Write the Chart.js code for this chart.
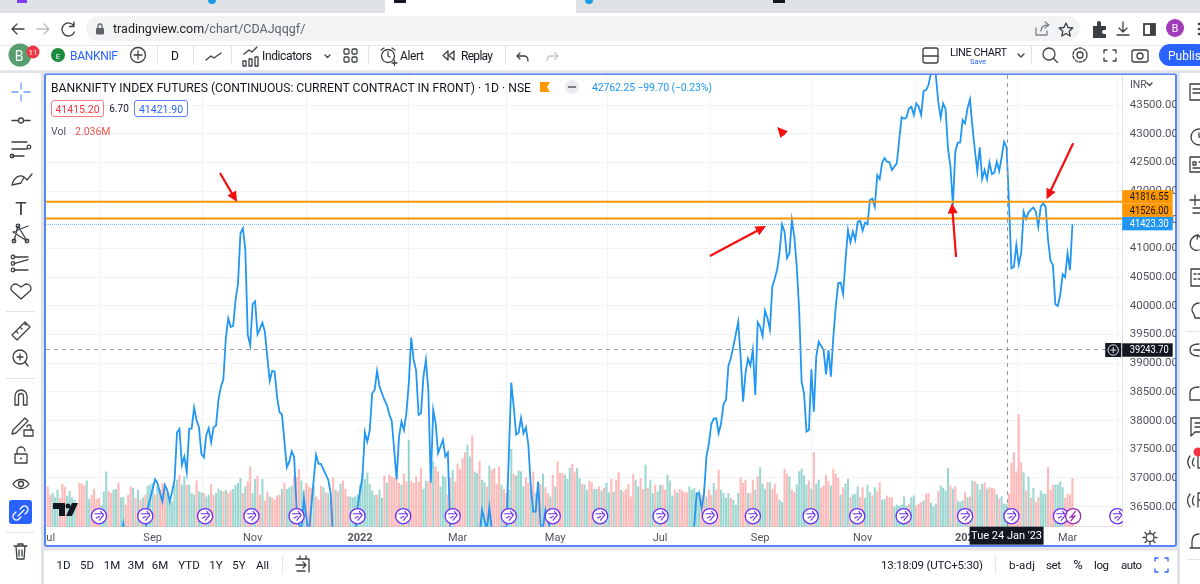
<!DOCTYPE html>
<html>
<head>
<meta charset="utf-8">
<title>BANKNIFTY</title>
<script src="https://cdn.jsdelivr.net/npm/chart.js@4/dist/chart.umd.min.js"></script>
<style>
    html, body { margin: 0; padding: 0; width: 1200px; height: 584px; overflow: hidden; background: #e0e3eb; }
    #frame { position: absolute; left: 44px; top: 73px; width: 1133px; height: 474px; box-sizing: border-box; border: 2px solid #5b84f5; border-radius: 3px; background: #fff; }
    #chartBox { position: absolute; left: 46px; top: 75px; width: 1130px; height: 471px; }
    #chrome { position: absolute; left: 0; top: 0; pointer-events: none; }
    #chrome text { font-family: Roboto, "Noto Sans", sans-serif; fill: #131722; }
    #chrome .ic { fill: none; stroke: #3c4043; stroke-width: 1.3; stroke-linecap: round; stroke-linejoin: round; }
</style>
</head>
<body>
<div id="frame"></div>
<div id="chartBox"><canvas id="priceChart" width="1130" height="471"></canvas></div>

<svg id="chrome" width="1200" height="584" viewBox="0 0 1200 584">
    <!-- browser tabs -->
    <rect x="0" y="0" width="1200" height="13" fill="#dee1e6"/>
    <rect x="385" y="0" width="191" height="13" fill="#fff"/>
    <rect x="17" y="0" width="10" height="3" fill="#7e3ff2"/>
    <circle cx="212" cy="0" r="4" fill="#1a9ae6"/>
    <rect x="394" y="0" width="12" height="3" fill="#131722"/>
    <circle cx="589" cy="0" r="4" fill="#1a9ae6"/>
    <rect x="773" y="0" width="12" height="3" fill="#131722"/>
    <rect x="0" y="13" width="1200" height="33" fill="#fff"/>
    <rect x="86" y="16" width="994" height="25" rx="12.5" fill="#f1f3f4"/>
    <path class="ic" d="M24 29H12M17 24l-5 5 5 5"/>
    <path class="ic" style="stroke:#b8babd" d="M37 29h12M44 24l5 5-5 5"/>
    <path class="ic" d="M74 26a6.5 6.5 0 1 0 0.5 6M74 22v4.500h-4.500"/>
    <rect x="96" y="28" width="8" height="6.500" rx="1" fill="#5f6368"/>
    <path class="ic" style="stroke:#5f6368" d="M98 28v-2a2 2 0 0 1 4 0v2"/>
    <text x="113" y="33" font-size="12.500"><tspan style="fill:#202124">tradingview.com</tspan><tspan style="fill:#5f6368">/chart/CDAJqqgf/</tspan></text>
    <path class="ic" style="stroke:#80868b" d="M1036 28v7h11v-4M1041 31c0-4 3-6 7-6M1045 22l4 3-4 3"/>
    <path class="ic" d="M1066 23l2 4.500 4.800.5-3.600 3.200 1 4.800-4.200-2.500-4.200 2.500 1-4.800-3.600-3.200 4.800-.5z"/>
    <path d="M1093 26h4v-3a2 2 0 0 1 4 0v3h5v4h-2a2 2 0 0 0 0 4h2v4h-13z" fill="#3c4043"/>
    <path class="ic" d="M1123 22v10M1119 28l4 4 4-4M1117 35h12"/>
    <rect x="1144" y="24" width="11" height="11" fill="none" stroke="#3c4043" stroke-width="1.800"/>
    <rect x="1150" y="24" width="5" height="11" fill="#3c4043"/>
    <circle cx="1175" cy="28" r="9" fill="#a13bb8"/>
    <text x="1175" y="32" font-size="10.500" text-anchor="middle" style="fill:#fff">B</text>
    <circle cx="1199" cy="24" r="1.300" fill="#3c4043"/><circle cx="1199" cy="29" r="1.300" fill="#3c4043"/><circle cx="1199" cy="34" r="1.300" fill="#3c4043"/>

    <!-- top toolbar -->
    <rect x="0" y="46" width="1200" height="24.500" fill="#fff"/>
    <rect x="0" y="45" width="1200" height="1" fill="#e6e7ea"/>
    <circle cx="20" cy="55" r="11.500" fill="#5a9e6f"/>
    <text x="19" y="60.500" font-size="14" text-anchor="middle" style="fill:#fff">B</text>
    <circle cx="33" cy="52" r="6.500" fill="#f23645"/>
    <text x="33" y="55" font-size="8" text-anchor="middle" style="fill:#fff">11</text>
    <circle cx="58" cy="55" r="7" fill="#1b8a3e"/>
    <text x="58" y="58.500" font-size="8" text-anchor="middle" style="fill:#fff">E</text>
    <text x="70" y="60" font-size="12" style="fill:#2962ff" textLength="48">BANKNIF</text>
    <circle cx="138" cy="55" r="7.500" class="ic"/><path class="ic" d="M134 55h8M138 51v8"/>
    <rect x="157" y="46" width="1" height="19" fill="#e0e3eb"/>
    <text x="175" y="60" font-size="12" text-anchor="middle">D</text>
    <rect x="193" y="46" width="1" height="19" fill="#e0e3eb"/>
    <path class="ic" d="M206 60l5-4 3 2 7-5"/>
    <rect x="231" y="46" width="1" height="19" fill="#e0e3eb"/>
    <path class="ic" d="M244 54l5-4 3 2 5-5M243 66v-5h3v5zM249 66v-7h3v7zM255 66v-9h3v9z"/>
    <text x="262" y="60" font-size="12" textLength="50">Indicators</text>
    <path class="ic" d="M325 55l2.500 2.500 2.500-2.500"/>
    <rect x="344" y="49" width="5" height="5" rx="1.200" class="ic"/><rect x="352" y="49" width="5" height="5" rx="1.200" class="ic"/>
    <rect x="344" y="57" width="5" height="5" rx="1.200" class="ic"/><rect x="352" y="57" width="5" height="5" rx="1.200" class="ic"/>
    <rect x="368" y="46" width="1" height="19" fill="#e0e3eb"/>
    <circle cx="388" cy="56" r="6.500" class="ic"/><path class="ic" d="M388 52v4l2 1M381 50l3-2M395 50l-3-2M392 63h5M394.500 60.500v5"/>
    <text x="400" y="60" font-size="12" textLength="24">Alert</text>
    <path class="ic" d="M448 51l-5 4.500 5 4.500zM454 51l-5 4.500 5 4.500z"/>
    <text x="461" y="60" font-size="12" textLength="32">Replay</text>
    <rect x="505" y="46" width="1" height="19" fill="#e0e3eb"/>
    <path class="ic" d="M517 56h7c3 0 4 2 4 5M517 56l3-3M517 56l3 3"/>
    <path class="ic" style="stroke:#c4c6cb" d="M558 56h-7c-3 0-4 2-4 5M558 56l-3-3M558 56l-3 3"/>
    <rect x="923" y="48" width="15" height="15" rx="2" class="ic"/><path class="ic" d="M923 56h15"/>
    <text x="950" y="56" font-size="11" textLength="57">LINE CHART</text>
    <text x="978" y="64" font-size="7.500" text-anchor="middle" style="fill:#2962ff">Save</text>
    <path class="ic" d="M1018 54l3 3 3-3"/>
    <rect x="1031" y="46" width="1" height="19" fill="#e0e3eb"/>
    <circle cx="1049" cy="54" r="6" class="ic"/><path class="ic" d="M1053.500 58.500l4 4"/>
    <circle cx="1080" cy="55" r="3" class="ic"/><circle cx="1080" cy="55" r="7" class="ic" stroke-dasharray="3 1.500"/>
    <path class="ic" d="M1104 53v-3h3M1113 50h3v3M1116 58v3h-3M1107 61h-3v-3"/>
    <rect x="1132" y="50" width="16" height="12" rx="2" class="ic"/><circle cx="1140" cy="56" r="3" class="ic"/>
    <rect x="1159" y="44" width="50" height="22" rx="11" fill="#2962ff"/>
    <text x="1168" y="60" font-size="12" style="fill:#fff">Publish</text>
    <rect x="0" y="70.500" width="1200" height="3" fill="#e0e3eb"/>

    <!-- bottom bar -->
    <rect x="0" y="547.500" width="1200" height="36.500" fill="#fff"/>
    <rect x="41" y="547.500" width="1139" height="3" fill="#e0e3eb"/>
    <rect x="41" y="550" width="3" height="34" fill="#e0e3eb"/>
    <rect x="1177" y="550" width="3" height="34" fill="#e0e3eb"/>
    <g font-size="11.500">
        <text x="63.500" y="569" text-anchor="middle">1D</text>
        <text x="87" y="569" text-anchor="middle">5D</text>
        <text x="112" y="569" text-anchor="middle">1M</text>
        <text x="136" y="569" text-anchor="middle">3M</text>
        <text x="160" y="569" text-anchor="middle">6M</text>
        <text x="189" y="569" text-anchor="middle">YTD</text>
        <text x="216" y="569" text-anchor="middle">1Y</text>
        <text x="239" y="569" text-anchor="middle">5Y</text>
        <text x="262.500" y="569" text-anchor="middle">All</text>
        <text x="881" y="569" textLength="102">13:18:09 (UTC+5:30)</text>
        <text x="1009" y="569" textLength="26">b-adj</text>
        <text x="1046" y="569" textLength="15">set</text>
        <text x="1078" y="569" text-anchor="middle" font-size="13">%</text>
        <text x="1094" y="569" textLength="15">log</text>
        <text x="1121" y="569" textLength="21">auto</text>
    </g>
    <rect x="282" y="556" width="1" height="18" fill="#e0e3eb"/>
    <path class="ic" d="M297 559h12v13M296 565h10M303 562l3 3-3 3M300 556v3M306 556v3M297 571h8"/>
    <rect x="995" y="556" width="1" height="18" fill="#e0e3eb"/>
    <path class="ic" style="stroke:#2962ff" d="M1155 561v-3h3M1165 558h3v3M1168 569v3h-3M1158 572h-3v-3"/>

    <!-- left toolbar -->
    <rect x="0" y="73" width="41" height="511" fill="#fff"/>
    <path class="ic" style="stroke:#6f9bf5" d="M21 83v6M21 95v6M12 92h6M24 92h6"/>
    <path class="ic" d="M12 120.500h6M24 120.500h6"/><circle cx="21" cy="120.500" r="2.500" class="ic"/>
    <path class="ic" d="M12 142h15M12 149h15M12 156h12"/><circle cx="29" cy="147" r="1.800" class="ic"/><circle cx="12" cy="156" r="1.800" class="ic"/>
    <path class="ic" d="M12 185c2-8 8-11 12-8l-3 6zM24 177l3 3 5-6"/>
    <text x="21" y="215" font-size="19" text-anchor="middle" style="fill:#3c4043">T</text>
    <path class="ic" d="M14 241l4-15 9 15-14-9 15-6"/><circle cx="14" cy="241" r="1.800" class="ic"/><circle cx="18" cy="226" r="1.800" class="ic"/><circle cx="27" cy="241" r="1.800" class="ic"/>
    <path class="ic" d="M14 257h14M14 270h14M14 263.500l14-4"/><circle cx="13" cy="257" r="1.800" class="ic"/><circle cx="13" cy="263.500" r="1.800" class="ic"/><circle cx="13" cy="270" r="1.800" class="ic"/>
    <path class="ic" d="M21 299l-9-8c-3-4 2-9 6-6l3 2 3-2c4-3 9 2 6 6z"/>
    <rect x="6" y="311" width="29" height="1" fill="#e0e3eb"/>
    <path class="ic" d="M12 335l13-13 5 5-13 13zM16 331l2 2M20 327l2 2M24 323l2 2"/>
    <circle cx="20" cy="357" r="7" class="ic"/><path class="ic" d="M25 362l3 4M17 357h6M20 354v6"/>
    <rect x="6" y="378" width="29" height="1" fill="#e0e3eb"/>
    <path class="ic" d="M15 405v-9a6 6 0 0 1 12 0v9h-3.500v-9a2.500 2.500 0 0 0-5 0v9z"/>
    <path class="ic" d="M13 430l12-12 3 3-12 12-4 1zM27 427a2 2 0 0 1 4 0v2M24 430h9v6h-9z"/>
    <path class="ic" d="M15 454h12v9H15zM17 454v-3a4 4 0 0 1 8 0"/><circle cx="21" cy="458.500" r="1" fill="#3c4043"/>
    <path class="ic" d="M13 484c4-6 12-6 16 0-4 6-12 6-16 0z"/><circle cx="21" cy="484" r="2.500" class="ic"/>
    <rect x="9" y="500" width="23" height="24" rx="3" fill="#2962ff"/>
    <path class="ic" style="stroke:#fff" d="M18 516l6-6M16 512l-2 2a3 3 0 0 0 5 5l2-2M25 514l2-2a3 3 0 0 0-5-5l-2 2"/>
    <rect x="6" y="532" width="29" height="1" fill="#e0e3eb"/>
    <path class="ic" d="M14 546h13M16 546l1 13h7l1-13M18 546v-2h5v2M19 550v6M22 550v6"/>

    <!-- right panel -->
    <rect x="1180" y="73" width="20" height="511" fill="#fff"/>
    <path class="ic" d="M1190 84h16v16h-16zM1193 89h10M1193 93h10"/>
    <circle cx="1199" cy="137" r="8" class="ic"/><path class="ic" d="M1199 133v4l3 1"/>
    <path class="ic" d="M1190 157h16v15h-16zM1193 162h3v3h-3zM1199 162h5M1193 168h8"/>
    <path class="ic" d="M1190 200h10M1195 195v10M1193 208h12M1193 213h12"/>
    <path class="ic" d="M1198 235c-7 1-9 8-7 12 2 3 5 4 8 3M1198 235l3 3M1198 235l-1 4"/>
    <path class="ic" d="M1191 269h14v17h-14zM1194 274h2M1198 274h2M1194 279h2M1198 279h2"/>
    <path class="ic" d="M1199 303a7 7 0 0 0-7 7c0 3 3 4 3 8h8"/>
    <rect x="1186" y="331" width="14" height="1" fill="#e0e3eb"/>
    <path class="ic" d="M1190 350c0-4 4-6 9-6M1190 350c0 4 4 6 9 6M1194 350h8"/>
    <path class="ic" d="M1190 400v-7c0-4 4-6 9-6M1190 400h10"/>
    <path class="ic" d="M1191 418h12v14h-8l-4 4zM1195 423h6M1195 427h6"/>
    <path class="ic" d="M1190 456c-3 4-3 8 0 12M1194 458c-2 3-2 6 0 8M1198 452h5v16h-5z"/>
    <circle cx="1198" cy="452" r="4.500" fill="#f23645"/>
    <path class="ic" d="M1190 494c-3 4-3 9 0 13M1194 496c-2 3-2 7 0 9M1198 493h4c3 0 3 7 0 7h-4zM1198 493v14"/>
    <path class="ic" d="M1192 548v-6c0-6 3-8 7-8M1190 548h10"/>
    <rect x="1187" y="559" width="13" height="1" fill="#e0e3eb"/>

    <!-- chart legend -->
    <text x="51" y="91.500" font-size="12.500" textLength="480" lengthAdjust="spacingAndGlyphs">BANKNIFTY INDEX FUTURES (CONTINUOUS: CURRENT CONTRACT IN FRONT) · 1D · NSE</text>
    <path d="M540 82h10l-3 5 3 5h-10z" fill="#ff9800"/>
    <circle cx="572" cy="87" r="7" fill="#e9ebf0"/><rect x="568" y="86" width="8" height="2" fill="#787b86"/>
    <text x="592" y="91" font-size="10.500" style="fill:#2196f3" textLength="120">42762.25 −99.70 (−0.23%)</text>
    <rect x="51.500" y="100.500" width="52" height="16" rx="2.500" fill="#fff" stroke="#f77c80"/>
    <text x="77.500" y="112.500" font-size="10.500" text-anchor="middle" style="fill:#f23645">41415.20</text>
    <text x="119" y="112" font-size="10" text-anchor="middle">6.70</text>
    <rect x="134.500" y="100.500" width="53" height="16" rx="2.500" fill="#fff" stroke="#5b84f5"/>
    <text x="161" y="112.500" font-size="10.500" text-anchor="middle" style="fill:#2962ff">41421.90</text>
    <text x="51" y="135" font-size="10.500" style="fill:#50535e">Vol</text>
    <text x="75" y="135" font-size="10.500" style="fill:#ef5350">2.036M</text>
    <text x="1130" y="88" font-size="10.500" style="fill:#50535e">INR</text>
    <path class="ic" d="M1147 83l2.500 2.500 2.500-2.500"/>

    <!-- TV logo -->
    <path d="M53 503h12v13h-6v-7h-6zM72 503h6l-6 13h-6z" fill="#131722"/><circle cx="68" cy="506" r="2.500" fill="#131722"/>

    <!-- gear on the axis corner -->
    <circle cx="1150" cy="537.500" r="4" class="ic"/><path class="ic" d="M1150 530.500v2M1150 542.500v2M1143 537.500h2M1155 537.500h2M1145 532.500l1.500 1.500M1155 532.500l-1.500 1.500M1145 542.500l1.500-1.500M1155 542.500l-1.500-1.500"/>
</svg>

<script>
// Volume in millions for each daily bar, and whether the bar was up (1) or down (0)
const volumes = [
    1.68, 1.33, 1.40, 1.22, 1.54, 1.19, 1.78, 1.68, 1.29, 1.50,
    1.22, 1.12, 0.91, 1.82, 1.79, 1.71, 1.93, 1.16, 1.33, 1.58,
    1.15, 1.19, 0.90, 1.47, 2.31, 1.50, 1.40, 1.54, 1.57, 1.85,
    1.22, 1.23, 0.91, 1.33, 1.68, 1.61, 1.19, 1.54, 1.12, 1.23,
    1.33, 1.71, 1.75, 1.82, 1.33, 1.68, 1.57, 1.82, 1.75, 1.40,
    1.05, 1.05, 1.75, 1.96, 2.17, 1.75, 2.10, 1.75, 1.75, 1.40,
    1.33, 1.93, 1.47, 1.43, 1.40, 1.26, 1.33, 1.79, 1.33, 1.40,
    1.58, 1.51, 1.47, 1.54, 1.40, 1.51, 1.57, 1.75, 1.82, 2.03,
    1.40, 1.68, 1.89, 2.52, 1.40, 1.99, 2.13, 1.33, 1.99, 1.09,
    1.47, 1.26, 1.22, 1.12, 1.30, 1.33, 1.57, 1.85, 1.57, 1.65,
    1.71, 2.14, 2.07, 2.41, 1.93, 1.54, 1.82, 1.68, 1.61, 1.71,
    1.26, 1.12, 1.71, 1.65, 1.43, 1.40, 1.12, 2.07, 1.54, 1.47,
    1.79, 1.92, 1.57, 1.26, 1.26, 1.22, 1.26, 1.33, 1.75, 2.27,
    1.99, 2.27, 1.79, 1.51, 1.33, 1.33, 1.54, 1.19, 2.13, 1.82,
    2.17, 2.10, 2.03, 2.17, 1.82, 1.75, 2.21, 1.89, 3.64, 1.92,
    1.82, 2.10, 1.89, 2.45, 1.58, 1.92, 1.92, 2.21, 2.73, 2.52,
    2.31, 1.68, 2.14, 2.07, 1.33, 2.06, 2.38, 1.89, 2.63, 2.42,
    2.87, 3.12, 3.43, 2.94, 3.82, 2.31, 2.24, 2.76, 1.96, 1.86,
    1.68, 2.55, 2.38, 2.45, 1.79, 2.52, 1.75, 1.57, 1.40, 1.54,
    3.25, 2.21, 2.13, 2.35, 2.31, 1.68, 2.07, 1.82, 1.54, 2.31,
    1.40, 1.82, 1.78, 2.21, 1.65, 1.40, 1.26, 2.17, 1.68, 2.73,
    2.24, 2.24, 2.17, 1.99, 2.45, 2.63, 2.31, 2.45, 2.03, 1.79,
    1.75, 1.54, 1.92, 1.85, 1.57, 1.57, 1.68, 1.51, 1.61, 1.82,
    1.43, 1.99, 1.47, 1.96, 2.28, 1.54, 1.47, 1.57, 1.79, 1.26,
    2.21, 1.96, 1.68, 2.03, 1.57, 2.59, 1.61, 1.96, 1.40, 1.75,
    1.47, 1.75, 1.75, 1.54, 2.17, 1.93, 1.29, 1.54, 1.44, 1.57,
    1.51, 1.44, 1.44, 1.68, 1.54, 1.61, 1.43, 1.54, 1.33, 1.68,
    1.26, 1.54, 1.33, 1.82, 1.54, 2.38, 1.54, 1.40, 1.19, 1.40,
    1.19, 1.12, 0.91, 1.40, 2.06, 1.82, 1.96, 1.40, 1.40, 1.96,
    1.54, 2.10, 2.49, 1.79, 1.58, 1.86, 1.86, 1.58, 1.79, 1.37,
    1.12, 1.02, 2.42, 2.21, 2.10, 1.55, 1.44, 1.76, 2.32, 2.42,
    2.14, 1.76, 1.93, 1.58, 3.12, 1.79, 1.97, 1.62, 1.72, 2.17,
    1.90, 1.72, 2.42, 2.21, 2.03, 1.34, 1.65, 1.79, 2.00, 1.23,
    1.34, 1.37, 1.69, 1.23, 1.65, 1.20, 1.75, 1.44, 1.30, 1.65,
    1.47, 1.86, 1.12, 1.16, 1.30, 1.23, 1.23, 0.84, 0.92, 0.88,
    0.92, 1.26, 0.88, 0.95, 1.23, 1.30, 0.88, 0.95, 1.02, 1.09,
    1.37, 1.40, 0.99, 0.85, 0.95, 1.48, 1.72, 1.62, 1.51, 2.46,
    1.72, 1.58, 1.69, 1.09, 1.02, 1.09, 1.44, 1.23, 1.26, 1.93,
    1.89, 1.79, 1.54, 1.79, 1.83, 1.58, 1.65, 1.61, 1.58, 1.34,
    1.16, 1.26, 0.95, 0.95, 1.37, 2.68, 3.12, 2.32, 4.73, 2.70,
    2.28, 1.51, 2.10, 1.20, 1.61, 1.02, 1.23, 1.51, 1.37, 1.37,
    2.49, 1.55, 1.75, 1.75, 1.76, 1.89, 1.65, 1.19, 1.37, 1.34,
    2.036
];
const volumeUp = [
    0,0,1,1,1,0,0,0,1,1, 1,1,0,0,0,0,1,1,0,0, 0,0,1,1,1,0,0,1,1,0,
    1,1,0,0,0,1,0,1,0,1, 0,1,1,1,0,1,0,0,0,1, 1,1,1,1,0,1,1,0,1,1,
    1,0,1,1,0,1,1,0,0,1, 1,1,0,1,0,0,1,1,1,1, 0,1,0,0,1,1,0,0,1,0,
    0,1,0,0,0,0,1,0,1,1, 1,0,0,0,1,1,0,0,0,1, 0,0,0,1,0,1,0,0,1,0,
    1,0,0,0,1,1,1,1,1,1, 1,1,1,1,1,0,1,1,0,1, 0,0,0,0,0,1,0,0,1,0,
    0,0,0,0,1,1,0,0,1,0, 0,1,1,1,0,0,1,0,0,0, 0,0,1,1,0,1,1,0,1,1,
    0,1,0,0,0,0,1,0,0,1, 1,0,1,1,1,1,0,0,1,0, 1,0,0,1,0,0,1,0,1,0,
    0,0,1,1,1,0,0,1,1,0, 1,1,0,0,1,1,0,1,0,1, 1,0,1,0,0,1,0,0,0,0,
    0,1,1,0,0,1,0,1,1,0, 1,1,0,0,1,1,1,0,1,0, 0,0,0,1,1,1,1,1,0,0,
    1,0,0,1,0,0,1,1,1,1, 0,1,1,1,0,0,0,1,0,0, 1,0,1,1,1,0,1,0,0,0,
    1,1,0,0,1,0,0,1,1,1, 1,1,0,1,0,1,1,0,0,0, 0,1,0,0,0,1,0,1,1,0,
    1,1,1,0,0,1,1,1,0,1, 0,0,1,1,0,0,0,1,1,1, 1,1,1,0,1,1,0,0,0,1,
    0,0,1,1,1,0,1,1,1,1, 0,1,0,1,1,1,0,1,0,1, 0,1,1,1,0,1,0,0,0,1,
    0,1,1,1,0,0,0,0,0,0, 1,0,1,0,1
];

// Close prices, at the bars where the line turns
const lineBars = [
    0, 12, 25, 30, 31, 32, 38, 40, 41, 44,
    45, 47, 48, 49, 50, 51, 52, 53, 54, 55,
    56, 57, 58, 59, 60, 61, 62, 63, 64, 65,
    66, 67, 68, 69, 70, 71, 72, 73, 74, 75,
    76, 77, 78, 79, 80, 81, 82, 83, 84, 85,
    86, 87, 88, 89, 90, 91, 92, 93, 94, 95,
    96, 98, 99, 100, 101, 102, 103, 104, 105, 107,
    109, 110, 111, 112, 115, 116, 117, 120, 124, 126,
    127, 129, 130, 131, 132, 133, 134, 135, 136, 138,
    139, 140, 141, 142, 143, 144, 145, 146, 147, 148,
    149, 150, 151, 152, 153, 154, 155, 156, 157, 158,
    159, 160, 161, 162, 163, 164, 165, 166, 172, 177,
    178, 180, 181, 182, 188, 190, 191, 192, 193, 194,
    195, 196, 197, 198, 199, 200, 201, 202, 203, 204,
    206, 207, 215, 230, 250, 264, 265, 266, 267, 268,
    269, 270, 271, 272, 273, 274, 275, 276, 277, 278,
    279, 280, 281, 282, 283, 284, 285, 286, 287, 288,
    289, 290, 291, 292, 293, 294, 295, 296, 297, 298,
    299, 300, 301, 302, 303, 304, 305, 306, 307, 308,
    309, 310, 311, 312, 313, 314, 315, 316, 317, 318,
    319, 320, 321, 322, 323, 324, 325, 326, 327, 328,
    329, 330, 331, 332, 333, 334, 335, 336, 337, 338,
    339, 340, 341, 342, 343, 344, 345, 346, 348, 349,
    350, 351, 352, 353, 354, 355, 356, 357, 358, 359,
    360, 361, 362, 363, 364, 365, 366, 367, 368, 369,
    370, 371, 372, 373, 374, 375, 376, 377, 378, 379,
    380, 381, 382, 383, 384, 385, 386, 387, 388, 389,
    390, 391, 392, 393, 394, 395, 396, 397, 398, 399,
    400, 401, 402, 403, 404, 405, 406, 407, 408, 409,
    410, 411, 412, 413, 414, 415, 416, 417, 418, 419,
    420
];
const closes = [
    35600, 35700, 35800, 35950, 36209, 35950, 35800, 36000, 36471, 36977,
    36907, 36587, 36878, 36791, 36587, 36762, 36965, 37790, 37854, 37227,
    37372, 37099, 37860, 37860, 38226, 38011, 37883, 37418, 37360, 37750,
    37866, 37622, 37883, 37913, 38372, 38593, 38721, 39436, 39784, 39633,
    39651, 40104, 40395, 41267, 41354, 40976, 39494, 39314, 40034, 40081,
    39505, 39600, 39709, 39552, 39116, 38692, 38866, 38860, 38418, 38145,
    38110, 37186, 37285, 37465, 37372, 36471, 36180, 36122, 36645, 36000,
    36965, 37401, 37244, 37244, 36965, 36732, 35900, 35700, 35800, 35950,
    36500, 37023, 37796, 37634, 37837, 38476, 38535, 38866, 38593, 38360,
    38273, 38110, 37994, 37500, 36977, 37721, 37982, 37837, 38128, 38651,
    39447, 39058, 38872, 38099, 38128, 38767, 39058, 38535, 36918, 38186,
    37953, 37430, 37550, 37663, 37372, 37442, 36100, 35900, 35700, 36000,
    36442, 36100, 36488, 36100, 36150, 38662, 38244, 37756, 37790, 38046,
    37779, 37883, 37575, 36849, 36413, 36413, 36936, 36180, 36120, 36442,
    36100, 35500, 35000, 34000, 35000, 35800, 36180, 36732, 36732, 36471,
    36732, 37372, 37604, 37941, 38035, 38040, 37779, 37953, 38290, 38360,
    38959, 39087, 39290, 39500, 39720, 39116, 38331, 38825, 39081, 38959,
    39232, 38447, 39715, 39639, 39476, 39918, 39784, 39592, 40337, 40480,
    40639, 40947, 41424, 41296, 40836, 40918, 41499, 41208, 40685, 39930,
    38679, 38476, 37807, 37836, 38894, 38156, 39115, 39377, 39300, 39232,
    38807, 39232, 38767, 39465, 39988, 40395, 40406, 40209, 40802, 41325,
    41110, 41296, 41150, 41470, 41482, 41313, 41453, 41429, 41848, 41871,
    41732, 42284, 42214, 42499, 42580, 42516, 42505, 42371, 42487, 42894,
    43290, 43266, 43290, 43446, 43476, 43330, 43534, 43476, 43330, 43749,
    43766, 43853, 44057, 44130, 44028, 43563, 43284, 43534, 43435, 42749,
    42429, 41761, 42691, 42848, 42848, 43243, 43185, 43446, 43603, 43127,
    42720, 42354, 42766, 42214, 42371, 42208, 42499, 42301, 42325, 42516,
    42354, 42600, 42865, 42766, 41790, 40656, 40685, 41063, 40726, 40918,
    41644, 41517, 41633, 41680, 41720, 41644, 41383, 41732, 41790, 41732,
    41150, 40790, 40714, 40028, 39999, 40191, 40552, 40499, 40918, 40627,
    41423.30
];

// Axis ticks
const priceTicks = [36500, 37000, 37500, 38000, 38500, 39000, 39500, 40000, 40500, 41000, 41500, 42000, 42500, 43000, 43500];
const monthBars = [0, 43, 84, 128, 168, 208, 251, 292, 334, 377, 418];
const monthLabels = ['Jul', 'Sep', 'Nov', '2022', 'Mar', 'May', 'Jul', 'Sep', 'Nov', '2023', 'Mar'];

// Levels drawn across the chart
const resistanceLevels = [41816.55, 41526.00];
const lastPrice = 41423.30;
const crosshairPrice = 39243.70;
const crosshairBar = 393;
const crosshairDate = "Tue 24 Jan '23";

// Hand drawn arrows on the chart: from bar, from price, to bar, to price
const arrows = [
    [70.6, 42319, 77.6, 41813],
    [271.4, 40871, 294.4, 41395],
    [372.3, 40854, 370.6, 41796],
    [420.3, 42837, 409.4, 41860],
    [302, 42982, 299, 43121]
];

// Dividend markers along the bottom of the pane
const dividendBars = [21, 40, 64.5, 83.5, 102, 127, 145.7, 166, 189, 207, 226.4, 251.2, 271.4, 289, 312.7, 331.8, 350.8, 376, 395, 415.3, 438.4];
const splitBars = [420.3];

const xMin = -0.7;
const xMax = 440.6;
const axisFont = '"Liberation Sans Narrow", Roboto, sans-serif';

function rowsFrom(xs, ys) {
    return xs.map((x, i) => ({ x: x, y: ys[i] }));
}

function levelRow(price) {
    return [{ x: xMin, y: price }, { x: xMax, y: price }];
}

// Chart.js leaves room for half a tick label at the ends of each axis, the plot should fill the pane
function dropAxisPadding(scale) {
    scale.paddingLeft = 0;
    scale.paddingRight = 0;
    scale.paddingTop = 0;
    scale.paddingBottom = 0;
}

// Price tags, arrows, crosshair and markers are placed through the scales
const overlayPlugin = {
    id: 'overlay',
    afterDatasetsDraw(chart) {
        const ctx = chart.ctx;
        const x = chart.scales.x;
        const y = chart.scales.y;
        const area = chart.chartArea;

        ctx.save();
        ctx.beginPath();
        ctx.rect(area.left, area.top, area.right - area.left, area.bottom - area.top);
        ctx.clip();

        // Crosshair
        ctx.strokeStyle = '#9598a1';
        ctx.lineWidth = 1;
        ctx.setLineDash([4, 4]);
        ctx.beginPath();
        ctx.moveTo(area.left, Math.round(y.getPixelForValue(crosshairPrice)) + 0.5);
        ctx.lineTo(area.right, Math.round(y.getPixelForValue(crosshairPrice)) + 0.5);
        ctx.moveTo(Math.round(x.getPixelForValue(crosshairBar)) + 0.5, area.top);
        ctx.lineTo(Math.round(x.getPixelForValue(crosshairBar)) + 0.5, area.bottom);
        ctx.stroke();
        ctx.setLineDash([]);

        // Arrows
        arrows.forEach(a => drawArrow(ctx, x.getPixelForValue(a[0]), y.getPixelForValue(a[1]), x.getPixelForValue(a[2]), y.getPixelForValue(a[3])));

        // Markers
        const markerY = area.bottom - 10.5;
        dividendBars.forEach(b => drawDividend(ctx, x.getPixelForValue(b), markerY));
        splitBars.forEach(b => drawSplit(ctx, x.getPixelForValue(b), markerY));
        ctx.restore();

        // Tags over the price axis
        const axisX = area.right - 0.5;
        drawTag(ctx, axisX, y.getPixelForValue(resistanceLevels[0]) - 5, resistanceLevels[0].toFixed(2), '#ff9800', '#131722');
        drawTag(ctx, axisX, y.getPixelForValue(resistanceLevels[1]) - 8.3, resistanceLevels[1].toFixed(2), '#ff9800', '#131722');
        drawTag(ctx, axisX, y.getPixelForValue(lastPrice) - 0.7, lastPrice.toFixed(2), '#2196f3', '#ffffff');
        const crossY = y.getPixelForValue(crosshairPrice);
        drawTag(ctx, axisX, crossY + 0.7, crosshairPrice.toFixed(2), '#131722', '#ffffff');

        // Plus button next to the crosshair tag
        ctx.fillStyle = '#131722';
        ctx.fillRect(axisX - 17, crossY - 6.3, 16, 14);
        ctx.strokeStyle = '#e0e3eb';
        ctx.beginPath();
        ctx.arc(axisX - 9, crossY + 0.7, 5.2, 0, Math.PI * 2);
        ctx.moveTo(axisX - 12, crossY + 0.7);
        ctx.lineTo(axisX - 6, crossY + 0.7);
        ctx.moveTo(axisX - 9, crossY - 2.3);
        ctx.lineTo(axisX - 9, crossY + 3.7);
        ctx.stroke();

        // Date tag on the time axis
        const dateX = x.getPixelForValue(crosshairBar);
        ctx.fillStyle = '#131722';
        ctx.fillRect(dateX - 37, area.bottom, 74, 18);
        ctx.fillStyle = '#ffffff';
        ctx.font = '11px Roboto, "Noto Sans", sans-serif';
        ctx.textAlign = 'center';
        ctx.textBaseline = 'middle';
        ctx.fillText(crosshairDate, dateX, area.bottom + 10);
    }
};

function drawArrow(ctx, x1, y1, x2, y2) {
    const angle = Math.atan2(y2 - y1, x2 - x1);
    const head = 10;
    ctx.strokeStyle = '#f50f0f';
    ctx.fillStyle = '#f50f0f';
    ctx.lineWidth = 2.2;
    ctx.beginPath();
    ctx.moveTo(x1, y1);
    ctx.lineTo(x2 - Math.cos(angle) * head, y2 - Math.sin(angle) * head);
    ctx.stroke();
    ctx.beginPath();
    ctx.moveTo(x2, y2);
    ctx.lineTo(x2 - Math.cos(angle - 0.45) * head * 1.15, y2 - Math.sin(angle - 0.45) * head * 1.15);
    ctx.lineTo(x2 - Math.cos(angle + 0.45) * head * 1.15, y2 - Math.sin(angle + 0.45) * head * 1.15);
    ctx.closePath();
    ctx.fill();
}

function drawDividend(ctx, cx, cy) {
    ctx.fillStyle = '#ffffff';
    ctx.strokeStyle = '#6a2cf0';
    ctx.lineWidth = 1.3;
    ctx.beginPath();
    ctx.arc(cx, cy, 7.6, 0, Math.PI * 2);
    ctx.fill();
    ctx.stroke();
    ctx.lineWidth = 1.1;
    ctx.beginPath();
    ctx.moveTo(cx - 4.5, cy - 2.5);
    ctx.lineTo(cx + 4.5, cy - 2.5);
    ctx.moveTo(cx + 1.5, cy - 5);
    ctx.lineTo(cx + 4.5, cy - 1);
    ctx.lineTo(cx, cy + 4.5);
    ctx.moveTo(cx - 3, cy + 2);
    ctx.lineTo(cx + 1, cy);
    ctx.stroke();
}

function drawSplit(ctx, cx, cy) {
    ctx.fillStyle = '#ffffff';
    ctx.strokeStyle = '#9c27b0';
    ctx.lineWidth = 1.3;
    ctx.beginPath();
    ctx.arc(cx, cy, 7.6, 0, Math.PI * 2);
    ctx.fill();
    ctx.stroke();
    ctx.beginPath();
    ctx.moveTo(cx + 2.5, cy - 5);
    ctx.lineTo(cx - 2.5, cy + 1);
    ctx.lineTo(cx + 1.5, cy);
    ctx.lineTo(cx - 2.5, cy + 5);
    ctx.stroke();
}

function drawTag(ctx, left, cy, text, background, color) {
    ctx.fillStyle = background;
    ctx.fillRect(left, cy - 6.7, 50.5, 13.4);
    ctx.fillStyle = color;
    ctx.font = '11.5px ' + axisFont;
    ctx.textAlign = 'left';
    ctx.textBaseline = 'middle';
    ctx.fillText(text, left + 7.5, cy + 0.5, 39);
}

const ctx = document.getElementById('priceChart').getContext('2d');

new Chart(ctx, {
    data: {
        datasets: [
            {
                type: 'line',
                data: rowsFrom(lineBars, closes),
                yAxisID: 'y',
                borderColor: '#2196f3',
                borderWidth: 1.8,
                pointRadius: 0,
                tension: 0,
                order: 2
            },
            {
                type: 'line',
                data: levelRow(resistanceLevels[0]),
                yAxisID: 'y',
                borderColor: '#ff9800',
                borderWidth: 2,
                pointRadius: 0,
                order: 1
            },
            {
                type: 'line',
                data: levelRow(resistanceLevels[1]),
                yAxisID: 'y',
                borderColor: '#ff9800',
                borderWidth: 2,
                pointRadius: 0,
                order: 1
            },
            {
                type: 'line',
                data: levelRow(lastPrice),
                yAxisID: 'y',
                borderColor: '#64b5f6',
                borderWidth: 1,
                borderDash: [1, 1],
                pointRadius: 0,
                order: 3
            },
            {
                type: 'bar',
                data: rowsFrom(volumes.map((v, i) => i), volumes),
                yAxisID: 'vol',
                backgroundColor: volumeUp.map(up => up ? 'rgba(38, 166, 154, 0.45)' : 'rgba(250, 90, 85, 0.42)'),
                barThickness: 1.4,
                order: 4
            }
        ]
    },
    options: {
        responsive: false,
        animation: false,
        layout: { padding: 0 },
        plugins: {
            legend: { display: false },
            tooltip: { enabled: false }
        },
        scales: {
            x: {
                type: 'linear',
                offset: false,
                min: xMin,
                max: xMax,
                afterBuildTicks: scale => { scale.ticks = monthBars.map(b => ({ value: b })); },
                afterFit: scale => { scale.height = 19.3; dropAxisPadding(scale); },
                border: { color: '#e0e3eb' },
                grid: { color: '#f0f3fa', drawTicks: false },
                ticks: {
                    autoSkip: false,
                    maxRotation: 0,
                    padding: 5,
                    color: '#50535e',
                    font: c => ({
                        family: 'Roboto, "Noto Sans", sans-serif',
                        size: 11,
                        weight: c.tick && c.tick.value in { 128: 1, 377: 1 } ? 'bold' : 'normal'
                    }),
                    callback: (value, i) => monthLabels[i]
                }
            },
            y: {
                type: 'linear',
                position: 'right',
                min: 36150,
                max: 44028,
                afterBuildTicks: scale => { scale.ticks = priceTicks.map(p => ({ value: p })); },
                afterFit: scale => { scale.width = 53.3; dropAxisPadding(scale); },
                border: { color: '#e0e3eb' },
                grid: { color: '#f0f3fa', drawTicks: false },
                ticks: {
                    autoSkip: false,
                    padding: 7,
                    color: '#50535e',
                    font: { family: axisFont, size: 11.5 },
                    callback: value => value.toFixed(2)
                }
            },
            vol: {
                type: 'linear',
                display: false,
                min: 0,
                max: 19
            }
        }
    },
    plugins: [overlayPlugin]
});
</script>
</body>
</html>
